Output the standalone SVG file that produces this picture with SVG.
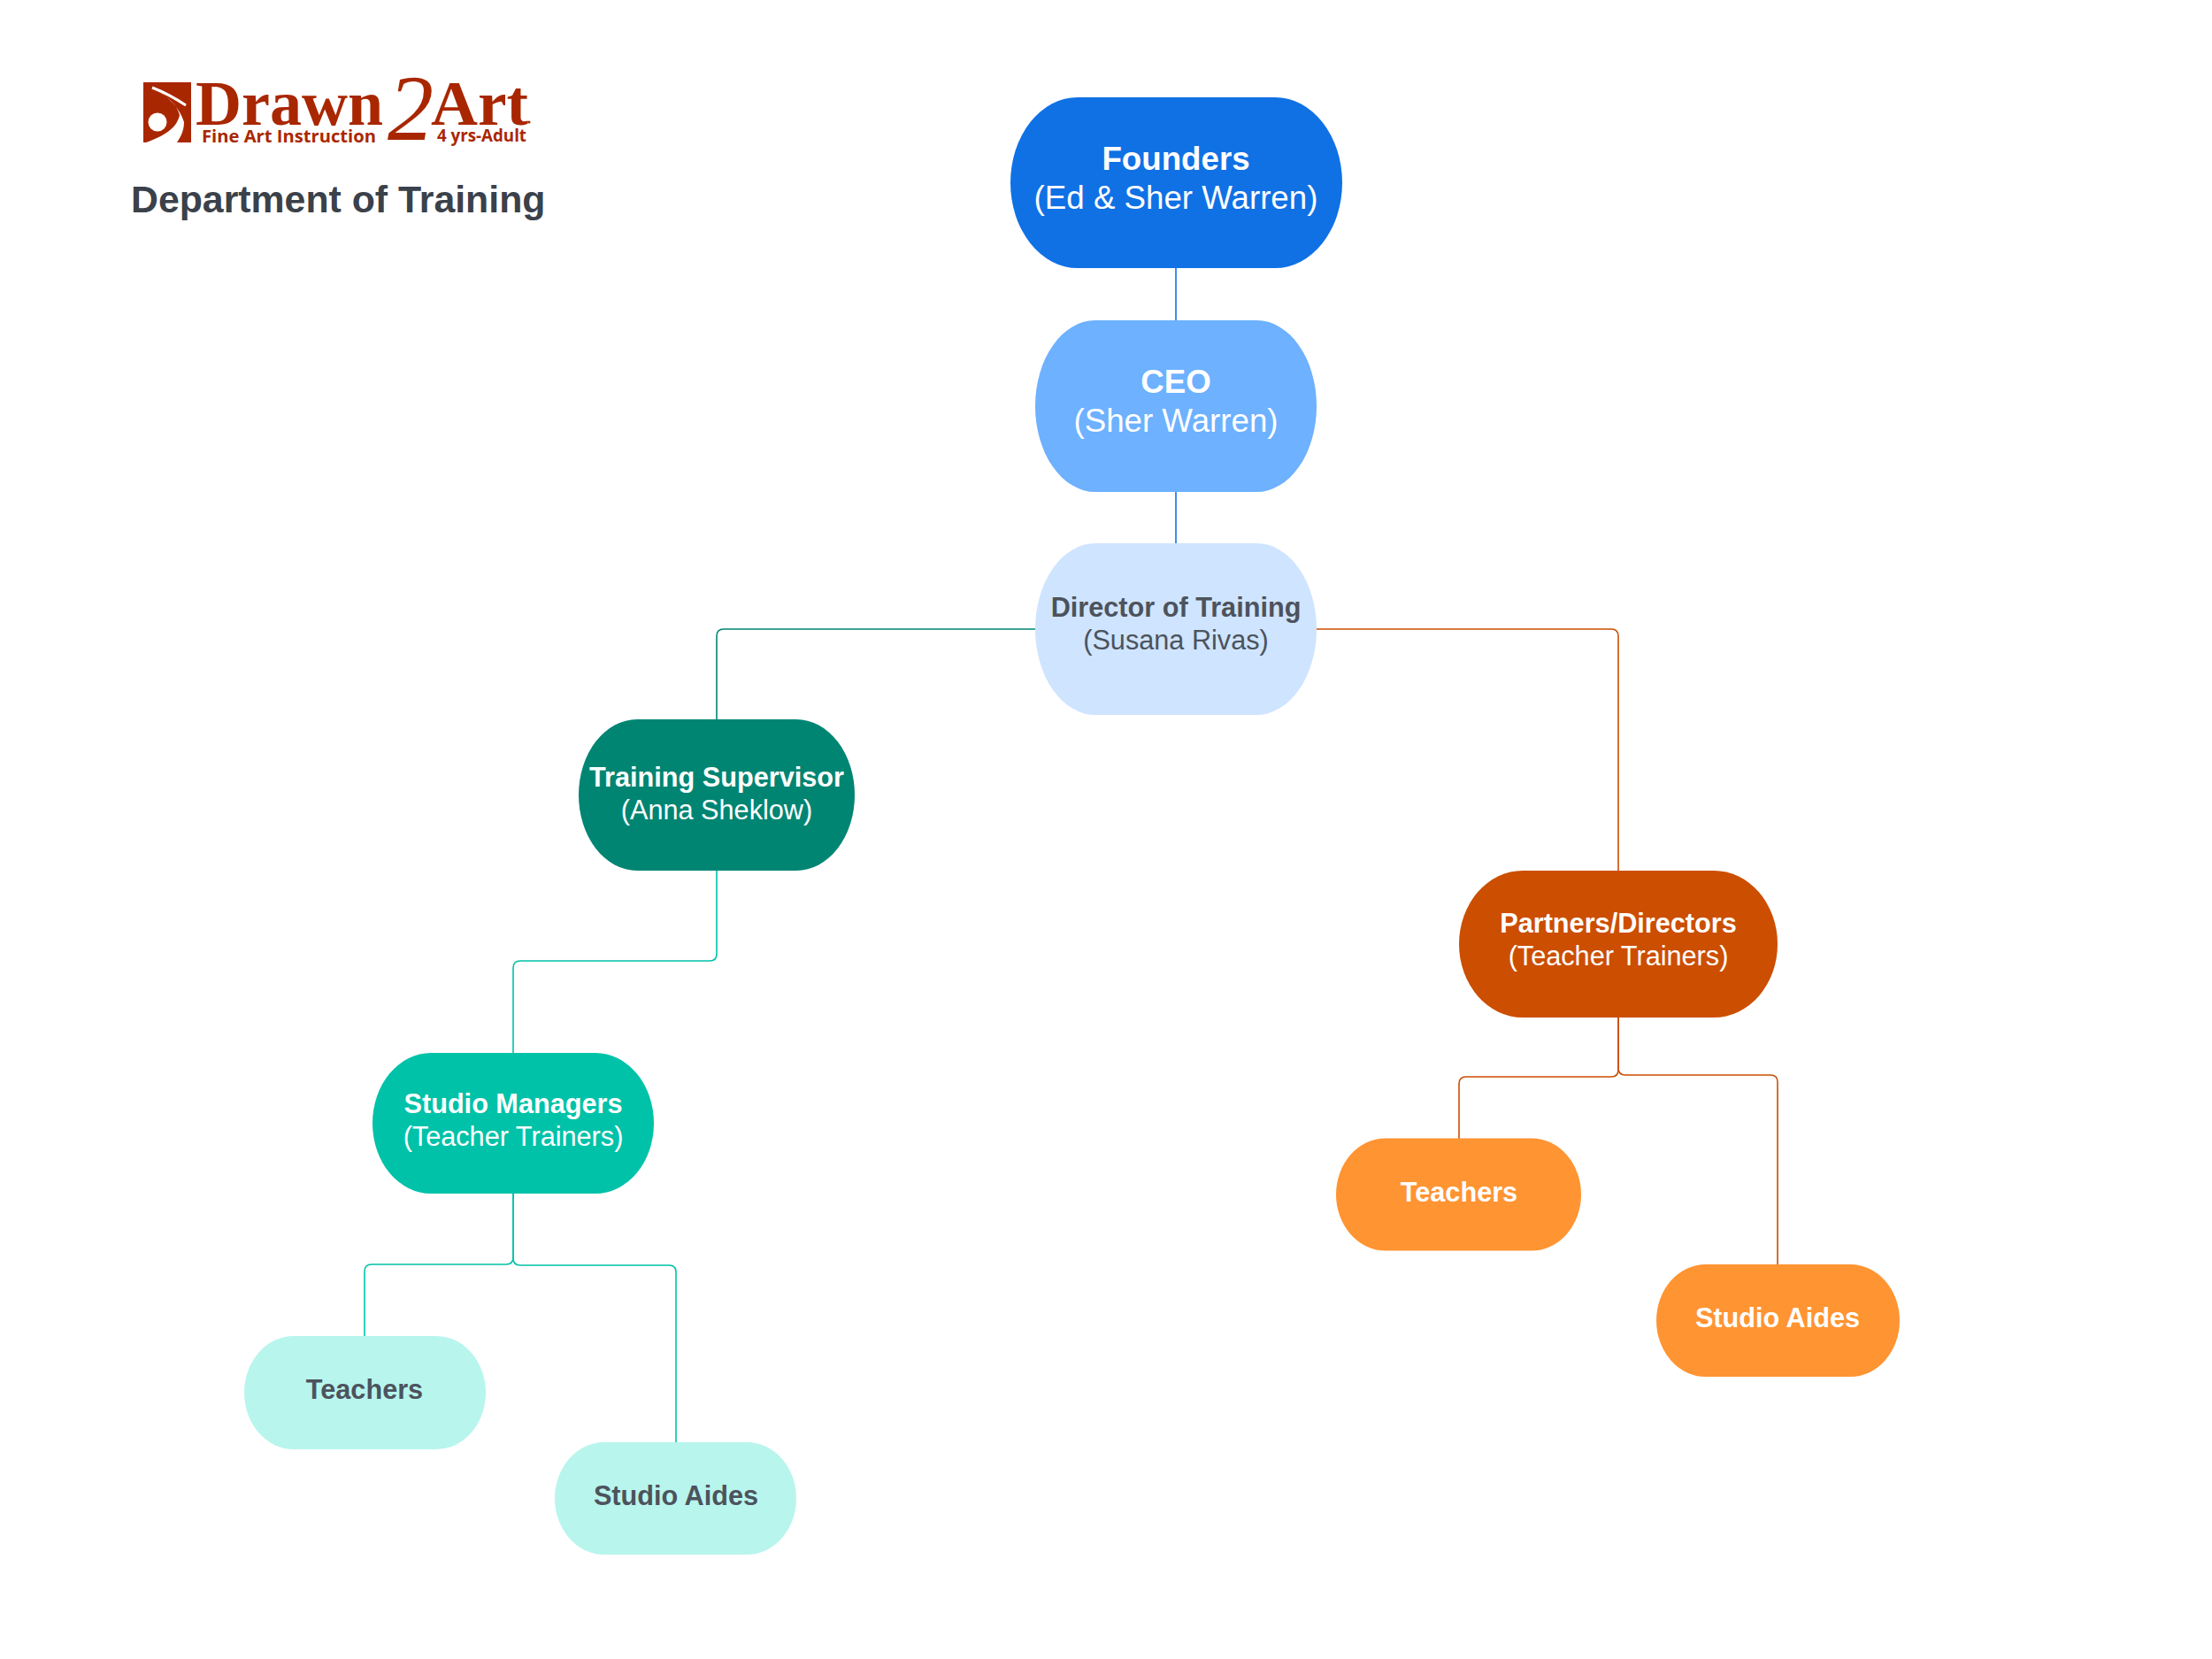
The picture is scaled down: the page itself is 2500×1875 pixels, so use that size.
<svg xmlns="http://www.w3.org/2000/svg" width="2500" height="1875" viewBox="0 0 2500 1875">
<style>
text{font-family:"Liberation Sans",Arial,sans-serif;text-anchor:middle}
.b{font-weight:700}
.w{fill:#fff}
.g{fill:#4c535d}
.s38{font-size:36.7px}
.s32{font-size:30.67px}
.c{fill:none;stroke-width:1.6}
.blue{stroke:#1071e5}
.dteal{stroke:#008573}
.teal{stroke:#00c2a8}
.or{stroke:#cc4e00}
.logo{font-family:"Liberation Serif",serif;font-weight:700;fill:#a92700;text-anchor:start}
.logos{font-family:"Open Sans","Liberation Sans",sans-serif;font-weight:700;fill:#a92700;text-anchor:start;font-size:20px}
</style>
<rect width="2500" height="1875" fill="#fff"/>
<g id="logo">
<rect x="162" y="93" width="54" height="68" fill="#a92700"/>
<path d="M180 104C190 110 202 120 208 138C208 148 204 155 200 161H165C185 154 200 145 203 130C200 118 190 110 180 104Z" fill="#fff"/>
<path d="M172 99C185 104 198 111 210 119" fill="none" stroke="#fff" stroke-width="3"/>
<circle cx="178" cy="138" r="10.5" fill="#fff"/>
<text class="logo" x="221" y="141" font-size="72" textLength="212" lengthAdjust="spacingAndGlyphs">Drawn</text>
<text class="logo" x="438" y="158" font-size="106" font-style="italic" textLength="52" lengthAdjust="spacingAndGlyphs" style="font-weight:400">2</text>
<text class="logo" x="487" y="141" font-size="72" textLength="110" lengthAdjust="spacingAndGlyphs">Art</text>
<circle cx="598" cy="138" r="1.5" fill="#a92700"/>
<text class="logos" x="228" y="161" textLength="197" lengthAdjust="spacingAndGlyphs">Fine Art Instruction</text>
<text class="logos" x="494" y="160" textLength="101" lengthAdjust="spacingAndGlyphs">4 yrs-Adult</text>
</g>
<g id="title"><text x="148" y="240" class="b" font-size="42.8" fill="#3a414a" style="text-anchor:start">Department of Training</text></g>
<g id="connectors">
<path class="c blue" d="M1329 303V362"/>
<path class="c blue" d="M1329 556V614"/>
<path class="c dteal" d="M1170 711H818Q810 711 810 719V813"/>
<path class="c or" d="M1488 711H1821Q1829 711 1829 719V984"/>
<path class="c teal" d="M810 984V1078Q810 1086 802 1086H588Q580 1086 580 1094V1190"/>
<path class="c teal" d="M580 1349V1421Q580 1429 572 1429H420Q412 1429 412 1437V1510"/>
<path class="c teal" d="M580 1349V1422Q580 1430 588 1430H756Q764 1430 764 1438V1630"/>
<path class="c or" d="M1829 1150V1209Q1829 1217 1821 1217H1657Q1649 1217 1649 1225V1287"/>
<path class="c or" d="M1829 1150V1207Q1829 1215 1837 1215H2001Q2009 1215 2009 1223V1429"/>
</g>
<g id="founders"><rect x="1142" y="110" width="375" height="193" rx="76" ry="96.500" fill="#1071e5"/><text x="1329" y="191.500" class="b w s38">Founders</text><text x="1329" y="236" class="w s38">(Ed &amp; Sher Warren)</text></g>
<g id="ceo"><rect x="1170" y="362" width="318" height="194" rx="68" ry="97" fill="#6db1ff"/><text x="1329" y="444" class="b w s38">CEO</text><text x="1329" y="488" class="w s38">(Sher Warren)</text></g>
<g id="director"><rect x="1170" y="614" width="318" height="194" rx="68" ry="97" fill="#cfe4ff"/><text x="1329" y="697" class="b g s32">Director of Training</text><text x="1329" y="734" class="g s32">(Susana Rivas)</text></g>
<g id="supervisor"><rect x="654" y="813" width="312" height="171" rx="66" ry="85.500" fill="#008573"/><text x="810" y="889" class="b w s32">Training Supervisor</text><text x="810" y="926" class="w s32">(Anna Sheklow)</text></g>
<g id="partners"><rect x="1649" y="984" width="360" height="166" rx="72" ry="83" fill="#cc4e00"/><text x="1829" y="1054" class="b w s32">Partners/Directors</text><text x="1829" y="1091" class="w s32">(Teacher Trainers)</text></g>
<g id="managers"><rect x="421" y="1190" width="318" height="159" rx="66" ry="79.500" fill="#00c2a8"/><text x="580" y="1258" class="b w s32">Studio Managers</text><text x="580" y="1295" class="w s32">(Teacher Trainers)</text></g>
<g id="teachers-left"><rect x="276" y="1510" width="273" height="128" rx="56" ry="64" fill="#b8f5ed"/><text x="412" y="1581" class="b g s32">Teachers</text></g>
<g id="aides-left"><rect x="627" y="1630" width="273" height="127" rx="56" ry="63.500" fill="#b8f5ed"/><text x="764" y="1701" class="b g s32">Studio Aides</text></g>
<g id="teachers-right"><rect x="1510" y="1286.500" width="277" height="127" rx="56" ry="63.500" fill="#ff9432"/><text x="1649" y="1358" class="b w s32">Teachers</text></g>
<g id="aides-right"><rect x="1872" y="1429" width="275" height="127" rx="56" ry="63.500" fill="#ff9432"/><text x="2009" y="1500" class="b w s32">Studio Aides</text></g>
</svg>
